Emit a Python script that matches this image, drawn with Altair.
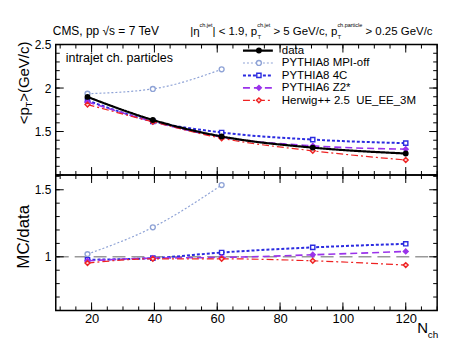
import altair as alt
import pandas as pd

FONT = "Liberation Sans"
W = 383
H_TOP = 131
H_BOT = 136

# ---------------- data ----------------
nch = [18.7, 39.5, 61.4, 90.4, 120.0]
series = ["data", "PYTHIA8 MPI-off", "PYTHIA8 4C", "PYTHIA6 Z2*", "Herwig++ 2.5\u00a0 UE_EE_3M"]

mean_pt = {
    "data": [1.898, 1.633, 1.443, 1.315, 1.247],
    "PYTHIA8 MPI-off": [1.935, 1.990, 2.215],
    "PYTHIA8 4C": [1.856, 1.617, 1.489, 1.407, 1.366],
    "PYTHIA6 Z2*": [1.840, 1.615, 1.436, 1.335, 1.297],
    "Herwig++ 2.5\u00a0 UE_EE_3M": [1.810, 1.612, 1.423, 1.278, 1.172],
}
ratio = {
    "PYTHIA8 MPI-off": [1.02, 1.22, 1.535],
    "PYTHIA8 4C": [0.978, 0.990, 1.032, 1.070, 1.097],
    "PYTHIA6 Z2*": [0.970, 0.990, 0.995, 1.015, 1.040],
    "Herwig++ 2.5\u00a0 UE_EE_3M": [0.953, 0.985, 0.985, 0.970, 0.938],
}

x_major = [20, 40, 60, 80, 100, 120]
x_minor = [v for v in range(10, 131, 5)]
top_y_major = [1.0, 1.5, 2.0, 2.5]
top_y_minor = [round(1.0 + 0.1 * i, 2) for i in range(16)]
bot_y_major = [1.0, 1.5]
bot_y_minor = [round(0.6 + 0.1 * i, 2) for i in range(11)]

# ---------------- styles ----------------
style = {
    "data": dict(color="#000000", dash=[1, 0], width=2.2, shape="circle", fill="#000000", size=20),
    "PYTHIA8 MPI-off": dict(color="#8fa3d6", dash=[2, 2], width=1.2, shape="circle", fill="#ffffff", size=24),
    "PYTHIA8 4C": dict(color="#2b2be0", dash=[3, 2], width=2.0, shape="square", fill="#ffffff", size=18),
    "PYTHIA6 Z2*": dict(color="#9a32ea", dash=[7, 4], width=1.6, shape="diamond", fill="#9a32ea", size=24),
    "Herwig++ 2.5\u00a0 UE_EE_3M": dict(color="#ee2222", dash=[7, 3, 2, 3], width=1.2, shape="diamond", fill="#ffd0d0", size=24),
}

xs = alt.Scale(domain=[8.6, 130], nice=False, zero=False)
ys_top = alt.Scale(domain=[1.0, 2.5], nice=False, zero=False)
ys_bot = alt.Scale(domain=[0.6, 1.61], nice=False, zero=False)

y_axis_top = alt.Axis(values=[1.5, 2.0, 2.5], format="~g", title=None, ticks=False, domain=False,
                      grid=False, labelFont=FONT, labelFontSize=12, labelColor="black", labelPadding=5)
y_axis_bot = alt.Axis(values=[1.0, 1.5], format="~g", title=None, ticks=False, domain=False,
                      grid=False, labelFont=FONT, labelFontSize=12, labelColor="black", labelPadding=5)
x_axis_bot = alt.Axis(values=x_major, title=None, ticks=False, domain=False, grid=False,
                      labelFont=FONT, labelFontSize=13, labelColor="black", labelPadding=2)


def series_layers(name, yv, yscale, x_axis, y_axis):
    st = style[name]
    df = pd.DataFrame({"nch": nch[: len(yv)], "val": yv})
    base = alt.Chart(df)
    enc = dict(
        x=alt.X("nch:Q", scale=xs, axis=x_axis),
        y=alt.Y("val:Q", scale=yscale, axis=y_axis),
    )
    line = base.mark_line(
        interpolate="monotone", color=st["color"], strokeDash=st["dash"], strokeWidth=st["width"]
    ).encode(**enc)
    pts = base.mark_point(
        shape=st["shape"], stroke=st["color"], fill=st["fill"], size=st["size"],
        strokeWidth=1.4, opacity=1, filled=False,
    ).encode(**enc)
    return [line, pts]


def tick_layers(values, channel, scale, length, H, x_axis, y_axis):
    df = pd.DataFrame({"v": values})
    b = alt.Chart(df).mark_rule(color="black", strokeWidth=1)
    if channel == "x":
        return [
            b.encode(x=alt.X("v:Q", scale=scale, axis=x_axis), y=alt.value(H), y2=alt.value(H - length)),
            b.encode(x=alt.X("v:Q", scale=scale, axis=x_axis), y=alt.value(0), y2=alt.value(length)),
        ]
    return [
        b.encode(y=alt.Y("v:Q", scale=scale, axis=y_axis), x=alt.value(0), x2=alt.value(length)),
        b.encode(y=alt.Y("v:Q", scale=scale, axis=y_axis), x=alt.value(W), x2=alt.value(W - length)),
    ]


def text(t, x, y, size, align="left", angle=0, baseline="alphabetic"):
    return alt.Chart(pd.DataFrame({"t": [t]})).mark_text(
        align=align, baseline=baseline, font=FONT, fontSize=size, angle=angle, color="black"
    ).encode(x=alt.value(x), y=alt.value(y), text="t:N")


def anchor(x, y):
    return alt.Chart(pd.DataFrame({"a": [0]})).mark_rule(strokeWidth=0, opacity=0).encode(
        x=alt.value(x), x2=alt.value(x), y=alt.value(y), y2=alt.value(y)
    )


# ---------------- top panel ----------------
top_layers = []
for name in series[1:] + ["data"]:
    top_layers += series_layers(name, mean_pt[name], ys_top, None, y_axis_top)
top_layers += tick_layers(x_minor, "x", xs, 4, H_TOP, None, y_axis_top)
top_layers += tick_layers(x_major, "x", xs, 8, H_TOP, None, y_axis_top)
top_layers += tick_layers(top_y_minor, "y", ys_top, 4, H_TOP, None, y_axis_top)
top_layers += tick_layers(top_y_major, "y", ys_top, 8, H_TOP, None, y_axis_top)
top_layers.append(anchor(-55, -43))

# legend
leg_x0, leg_x1, leg_mx, leg_tx = 188, 218, 204, 227
for i, name in enumerate(series):
    st = style[name]
    yy = 6 + 12.5 * i
    ldf = pd.DataFrame({"label": [name]})
    top_layers.append(
        alt.Chart(ldf).mark_rule(color=st["color"], strokeDash=st["dash"], strokeWidth=st["width"]).encode(
            x=alt.value(leg_x0), x2=alt.value(leg_x1), y=alt.value(yy), y2=alt.value(yy))
    )
    top_layers.append(
        alt.Chart(ldf).mark_point(shape=st["shape"], stroke=st["color"], fill=st["fill"], size=st["size"],
                                  strokeWidth=1.4, opacity=1).encode(x=alt.value(leg_mx), y=alt.value(yy))
    )
    top_layers.append(
        alt.Chart(ldf).mark_text(align="left", baseline="middle", font=FONT, fontSize=11.5, color="black").encode(
            x=alt.value(leg_tx), y=alt.value(yy + 0.5), text="label:N")
    )

# annotations
top_layers += [
    text("intrajet ch. particles", 10, 17.5, 12.5),
    text("CMS, pp \u221as = 7 TeV", -3, -10, 12),
    text("|\u03b7", 135, -10, 11.5),
    text("ch.jet", 144.3, -18, 5.5),
    text("| < 1.9, p", 157.4, -10, 11.5),
    text("ch.jet", 202.3, -18, 5.5),
    text("T", 202.6, -6, 6),
    text("> 5 GeV/c, p", 218.6, -10, 11.5),
    text("ch.particle", 282.8, -18, 5.5),
    text("T", 283, -6, 6),
    text("> 0.25 GeV/c", 311, -10, 11.5),
    text("<p", -26.5, 80, 15, angle=270),
    text("T", -23.5, 62.9, 9, angle=270),
    text(">(GeV/c)", -26.5, 57.4, 15, angle=270),
]

top = alt.layer(*top_layers).properties(width=W, height=H_TOP)

# ---------------- bottom panel ----------------
bot_layers = []
for name in series[1:]:
    bot_layers += series_layers(name, ratio[name], ys_bot, x_axis_bot, y_axis_bot)
bot_layers += tick_layers(x_minor, "x", xs, 4, H_BOT, x_axis_bot, y_axis_bot)
bot_layers += tick_layers(x_major, "x", xs, 8, H_BOT, x_axis_bot, y_axis_bot)
bot_layers += tick_layers(bot_y_minor, "y", ys_bot, 4, H_BOT, x_axis_bot, y_axis_bot)
bot_layers += tick_layers(bot_y_major, "y", ys_bot, 8, H_BOT, x_axis_bot, y_axis_bot)
bot_layers.insert(0,
    alt.Chart(pd.DataFrame({"r": [1.0]})).mark_rule(color="#999999", strokeDash=[13, 6], strokeWidth=1.6).encode(
        y=alt.Y("r:Q", scale=ys_bot, axis=y_axis_bot), x=alt.value(0), x2=alt.value(W))
)
bot_layers.append(anchor(W + 36, H_BOT + 41))
bot_layers += [
    text("MC/data", -26.5, 62, 17, align="center", angle=270),
    text("N", 363, 159, 15),
    text("ch", 373.5, 164, 10),
]
bottom = alt.layer(*bot_layers).properties(width=W, height=H_BOT)

chart = alt.vconcat(top, bottom, spacing=0, bounds="flush").properties(
    padding=0, autosize=alt.AutoSizeParams(type="pad")
).configure_view(stroke="black", strokeWidth=1.5).configure_axis(labelFont=FONT)

chart.save("out.html", embed_options={"renderer": "svg", "actions": False})
